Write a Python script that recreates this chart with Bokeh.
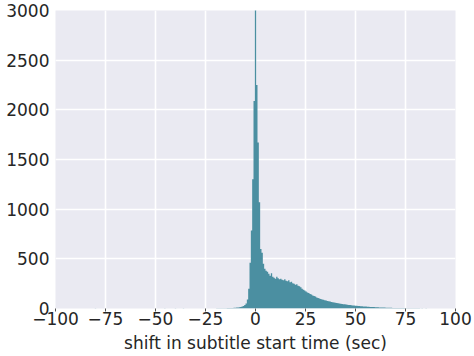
import numpy as np
from bokeh.plotting import figure
from bokeh.models import ColumnDataSource, FixedTicker
from bokeh.embed import file_html
from bokeh.resources import INLINE

# histogram data (bins of width 2/3 s, first bin centred at -30 s)
bin_width = 2.0 / 3.0
first_center = -30.0
counts = [
    # -30 .. -20.67
    1, 0, 1, 0, 0, 1, 0, 1, 0, 1, 1, 0, 1, 1, 1,
    # -20 .. -0.67
    1, 2, 2, 2, 2, 2, 3, 3, 3, 4, 4, 5, 5, 6, 7, 8, 9, 11, 13, 16,
    20, 25, 35, 50, 90, 200, 460, 785, 1300, 2090,
    # 0
    3400,
    # 0.67 .. 10
    2250, 1670, 1070, 600, 560, 450, 400, 380, 370, 350, 330, 355, 320, 310, 300,
    # 10.67 .. 20
    320, 305, 295, 300, 290, 285, 295, 280, 275, 285, 265, 270, 255, 250, 240,
    # 20.67 .. 30
    245, 230, 225, 215, 200, 190, 180, 170, 160, 155, 145, 140, 130, 125, 120,
    # 30.67 .. 40
    110, 105, 100, 95, 90, 88, 82, 80, 76, 72, 70, 66, 64, 60, 58,
    # 40.67 .. 50
    55, 52, 50, 48, 45, 44, 42, 40, 38, 36, 34, 33, 31, 30, 28,
    # 50.67 .. 60
    27, 26, 24, 23, 22, 21, 20, 19, 18, 17, 16, 15, 14, 14, 13,
    # 60.67 .. 70
    12, 12, 11, 10, 10, 9, 9, 8, 8, 7, 7, 7, 6, 6, 6,
    # 70.67 .. 80
    5, 5, 5, 4, 4, 4, 4, 3, 3, 3, 3, 3, 2, 2, 2,
    # 80.67 .. 100
    2, 2, 2, 1, 2, 1, 1, 2, 1, 1, 1, 0, 1, 1, 0,
    1, 0, 1, 1, 0, 0, 1, 0, 1, 0, 0, 1, 0, 0, 1,
]
# a few isolated far-left counts
tail_x = [-80.0, -45.33, -40.0, -36.0]
tail_counts = [3, 3, 3, 2]

x_ticks = [-100, -75, -50, -25, 0, 25, 50, 75, 100]
x_tick_labels = ["\u2212100", "\u221275", "\u221250", "\u221225", "0", "25", "50", "75", "100"]
y_ticks = [0, 500, 1000, 1500, 2000, 2500, 3000]

bar_color = "#4b8fa1"

centers = first_center + np.arange(len(counts)) * bin_width
main = ColumnDataSource(dict(x=centers, y1=np.zeros(len(counts)), y2=np.array(counts, dtype=float)))
tx = np.array(tail_x)
tails = ColumnDataSource(dict(left=tx - bin_width / 2, right=tx + bin_width / 2,
                              top=np.array(tail_counts, dtype=float), bottom=np.zeros(len(tx))))

p = figure(width=474, height=356, output_backend="svg", toolbar_location=None,
           x_range=(-100, 100), y_range=(0, 3000),
           min_border_left=55, min_border_right=19, min_border_top=10, min_border_bottom=48)

p.background_fill_color = "#EAEAF2"
p.border_fill_color = "white"
p.outline_line_color = None

p.varea_step(x="x", y1="y1", y2="y2", step_mode="center", source=main, fill_color=bar_color)
p.quad(left="left", right="right", top="top", bottom="bottom", source=tails,
       fill_color=bar_color, line_color=None)

p.xgrid.grid_line_color = "white"
p.ygrid.grid_line_color = "white"
p.xgrid.grid_line_width = 1.6
p.ygrid.grid_line_width = 1.6
p.grid.level = "underlay"

p.xaxis.ticker = FixedTicker(ticks=x_ticks)
p.yaxis.ticker = FixedTicker(ticks=y_ticks)
p.xaxis.major_label_overrides = {t: l for t, l in zip(x_ticks, x_tick_labels)}

for ax in (p.xaxis[0], p.yaxis[0]):
    ax.axis_line_color = None
    ax.minor_tick_line_color = None
    ax.major_label_text_font = "DejaVu Sans"
    ax.major_label_text_font_size = "17px"
    ax.major_label_text_color = "#262626"

p.xaxis.major_tick_in = 0
p.xaxis.major_tick_out = 3
p.xaxis.major_tick_line_color = "#555555"
p.xaxis.major_label_standoff = 0
p.yaxis.major_tick_in = 0
p.yaxis.major_tick_out = 0
p.yaxis.major_tick_line_color = None
p.yaxis.major_label_standoff = 6

p.xaxis.axis_label = "shift in subtitle start time (sec)"
p.xaxis.axis_label_text_font = "DejaVu Sans"
p.xaxis.axis_label_text_font_size = "17px"
p.xaxis.axis_label_text_font_style = "normal"
p.xaxis.axis_label_text_color = "#262626"
p.xaxis.axis_label_standoff = 5

open("out.html", "w").write(file_html(p, INLINE))
